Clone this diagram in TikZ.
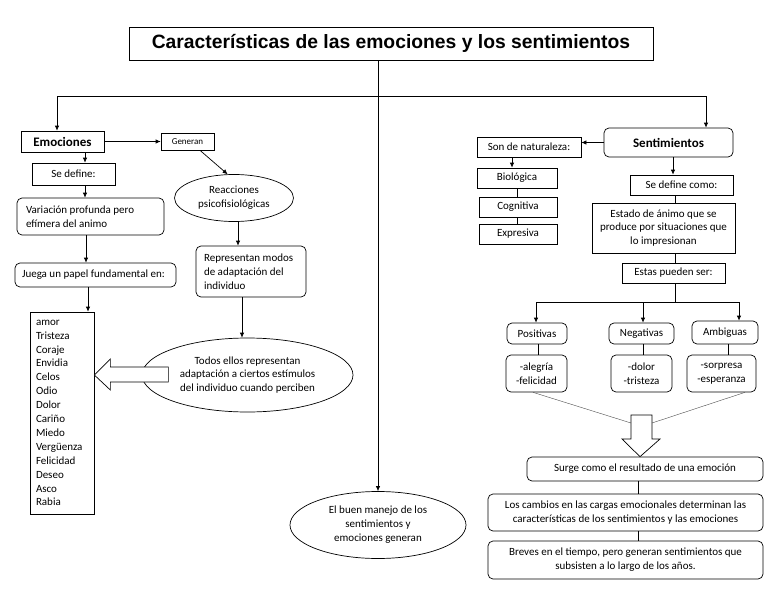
\documentclass[tikz,border=0pt]{standalone}
\usepackage{fontspec}
\setmainfont{Carlito}
\newfontfamily\titlefont{Liberation Sans}
\usetikzlibrary{arrows.meta,shapes.geometric}
\begin{document}
\begin{tikzpicture}[x=1pt,y=-1pt,
  base/.style={draw, line width=0.7pt, inner sep=0pt, align=center,
    font=\fontsize{11}{13.9}\selectfont},
  sz/.style 2 args={minimum width=#1, minimum height=#2},
  box/.style={base},
  rbox/.style={base, rounded corners=5pt},
  ell/.style={base, ellipse},
  lbox/.style={text width=#1, align=flush left},
  arr/.style={-{Latex[length=5pt,width=4.5pt]}, line width=0.7pt},
  ln/.style={line width=0.7pt},
  thinln/.style={line width=0.4pt, black!70},
  big/.style={font=\bfseries\fontsize{13}{15}\selectfont}]
\useasboundingbox (0,0) rectangle (768,594);

% title
\node[box, sz={524}{33}, font=\titlefont\bfseries\fontsize{19.3}{22}\selectfont] (title) at (391,43.5) {Características de las emociones y los sentimientos};

% left branch
\node[box, sz={83}{21}, big] (emo) at (62.5,141.5) {Emociones};
\node[box, sz={53}{17}, font=\fontsize{9}{11}\selectfont] (gen) at (187.5,141.5) {Generan};
\node[box, sz={83}{22}] (sedef) at (73.5,174) {Se define:};
\node[rbox, sz={147}{37}, lbox=129, inner xsep=9pt] (var) at (90.5,216.5) {Variación profunda pero\\efímera del animo};
\node[rbox, sz={161}{24}, lbox=147, inner xsep=7pt] (juega) at (95.5,275) {\mbox{Juega un papel fundamental en:}};
\node[box, sz={64}{202}, lbox=52, inner xsep=6pt] (list) at (62,413) {amor\\Tristeza\\Coraje\\Envidia\\Celos\\Odio\\Dolor\\Cariño\\Miedo\\Vergüenza\\Felicidad\\Deseo\\Asco\\Rabia};
\node[ell, sz={119}{47}] (reac) at (234,198) {Reacciones\\psicofisiológicas};
\node[rbox, sz={110}{51}, lbox=94, inner xsep=8pt] (rep) at (251,271.5) {Representan modos\\de adaptación del\\individuo};
\node[ell, sz={211}{74}] (todos) at (247.5,375) {Todos ellos representan\\adaptación a ciertos estímulos\\del individuo cuando perciben};
\node[ell, sz={176}{67}] (buen) at (378,525) {El buen manejo de los\\sentimientos y\\emociones generan};

% right branch
\node[rbox, sz={129}{29}, big] (sent) at (668.5,142.5) {Sentimientos};
\node[box, sz={104}{20}] (son) at (529,147) {Son de naturaleza:};
\node[box, sz={80}{20}] (bio) at (517,178) {Biológica};
\node[box, sz={78}{20}] (cog) at (518,207) {Cognitiva};
\node[box, sz={78}{20}] (exp) at (518,234) {Expresiva};
\node[box, sz={103}{20}] (sedc) at (681.5,185) {Se define como:};
\node[box, sz={143}{50}] (est) at (663.5,228) {Estado de ánimo que se\\produce por situaciones que\\lo impresionan};
\node[box, sz={103}{20}] (estas) at (673.5,273) {Estas pueden ser:};
\node[rbox, sz={60}{21}] (pos) at (537,333.5) {Positivas};
\node[rbox, sz={65}{21}] (neg) at (641.5,333.5) {Negativas};
\node[rbox, sz={66}{23}] (amb) at (725,332.5) {Ambiguas};
\node[rbox, sz={61}{37}] (ale) at (536.5,373.5) {-alegría\\-felicidad};
\node[rbox, sz={61}{37}] (dol) at (641.5,373.5) {-dolor\\-tristeza};
\node[rbox, sz={69}{37}] (esp) at (721.5,373.5) {-sorpresa\\-esperanza};
\node[rbox, sz={236}{24}] (surge) at (645,469) {Surge como el resultado de una emoción};
\node[rbox, sz={275}{37}] (cambios) at (625.5,512.5) {Los cambios en las cargas emocionales determinan las\\características de los sentimientos y las emociones};
\node[rbox, sz={275}{38}] (breves) at (625.5,560) {Breves en el tiempo, pero generan sentimientos que\\subsisten a lo largo de los años.};

% helper coordinates
\coordinate (hl) at (57,96);
\coordinate (hr) at (706,96);
\coordinate (cL) at (85,0);
\coordinate (cR) at (238,0);
\coordinate (cR2) at (242,0);
\coordinate (cS) at (512,0);
\coordinate (cS2) at (517,0);
\coordinate (cD) at (673,0);
\coordinate (cE) at (675,0);
\coordinate (hb) at (675,302);
\coordinate (b1) at (536,302);
\coordinate (b2) at (643,302);
\coordinate (b3) at (739,302);
\coordinate (cP) at (538,0);
\coordinate (cA) at (728,0);
\coordinate (cB) at (638,0);
\coordinate (fl) at (631,423);
\coordinate (fr) at (652,423);

% top connectors
\draw[ln] (hl) -- (hr);
\draw[arr] (title.south -| buen.north) -- (buen.north);
\draw[arr] (hl) -- (hl |- emo.north);
\draw[arr] (hr) -- (hr |- sent.north);

% left connectors
\draw[arr] (emo) -- (gen);
\draw[arr] (emo.south -| cL) -- (sedef.north -| cL);
\draw[arr] (sedef.south -| cL) -- (var.north -| cL);
\draw[arr] ([xshift=1]var.south -| cL) -- ([xshift=1]juega.north -| cL);
\draw[arr] ([xshift=3]juega.south -| cL) -- ([xshift=3]list.north -| cL);
\draw[arr] ([xshift=12.5]gen.south) -- (reac.105);
\draw[arr] (reac.south -| cR) -- (rep.north -| cR);
\draw[arr] (rep.south -| cR2) -- (todos.north -| cR2);
\draw[ln, fill=white] (list.east |- todos.center) -- ++(16,-16) -- ++(0,8) -- ++(58,0) -- ++(0,15) -- ++(-58,0) -- ++(0,8) -- cycle;

% right connectors
\draw[arr] (sent.west) -- (sent.west -| son.east);
\draw[arr] (son.south -| cS) -- (bio.north -| cS);
\draw[ln] (bio.south -| cS2) -- (cog.north -| cS2);
\draw[ln] (cog.south -| cS2) -- (exp.north -| cS2);
\draw[arr] (sent.south -| cD) -- (sedc.north -| cD);
\draw[ln] (sedc.south -| cE) -- (est.north -| cE);
\draw[ln] (est.south -| cE) -- (estas.north -| cE);
\draw[ln] (estas.south -| cE) -- (hb);
\draw[ln] (b1) -- (b3);
\draw[arr] (b1) -- (b1 |- pos.north);
\draw[arr] (b2) -- (b2 |- neg.north);
\draw[arr] (b3) -- (b3 |- amb.north);
\draw[ln] (pos.south -| cP) -- (ale.north -| cP);
\draw[ln] (neg.south -| b2) -- (dol.north -| b2);
\draw[ln] (amb.south -| cA) -- (esp.north -| cA);
\draw[thinln] ([xshift=-3.5]ale.south) -- (fl);
\draw[thinln] ([xshift=23.5]esp.south) -- (fr);
\draw[ln, fill=white] (fl |- 0,415) -- (fr |- 0,415) -- (fr |- 0,439) -- ++(8,0) -- (surge.north -| 640,0) -- (622,439) -- (fl |- 0,439) -- cycle;
\draw[ln] (surge.south -| cB) -- (cambios.north -| cB);
\draw[ln] (cambios.south -| cB) -- (breves.north -| cB);
\end{tikzpicture}
\end{document}
